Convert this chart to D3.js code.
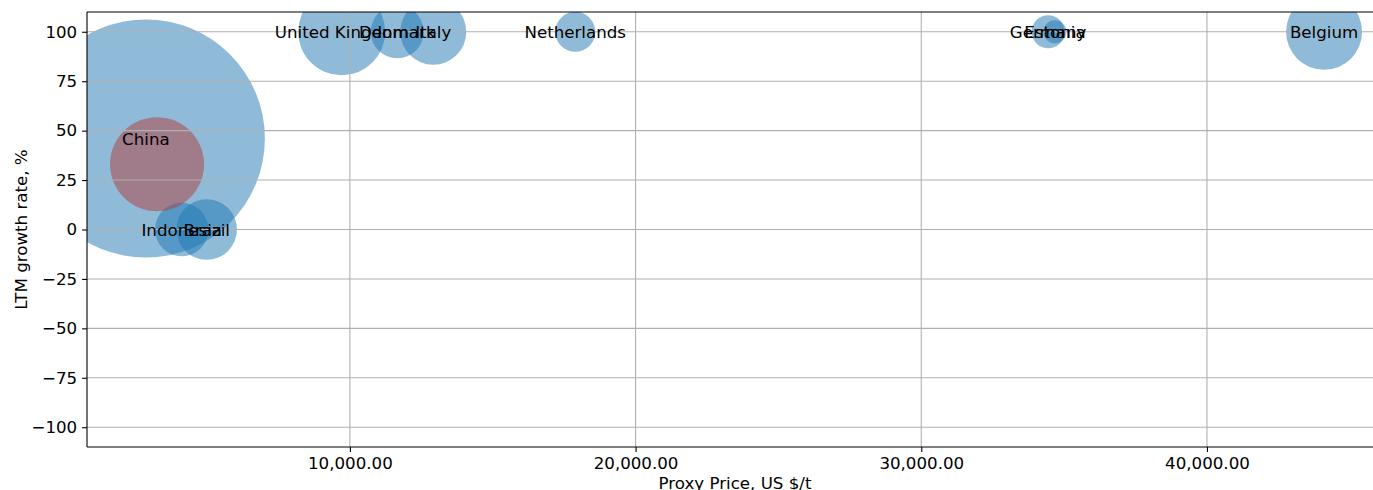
<!DOCTYPE html>
<html>
<head>
<meta charset="utf-8">
<script src="https://cdn.jsdelivr.net/npm/d3@7"></script>
<style>
  html, body { margin: 0; padding: 0; background: #fff; }
  svg { display: block; font-family: "DejaVu Sans", sans-serif; }
</style>
</head>
<body>
<svg id="chart" width="1373" height="490"></svg>
<script>
// ---- data ----
const countries = ["China", "Indonesia", "Brazil", "United Kingdom", "Denmark", "Italy", "Netherlands", "Germany", "Estonia", "Belgium"];
const proxyPrice = [2860, 4113, 4988, 9713, 11659, 12919, 17889, 34440, 34680, 44100];
const growthRate = [46, 0, 0, 100, 100, 100, 100, 100, 100, 100];
const volume = [14160, 713, 918, 1892, 702, 1089, 400, 272, 132, 1444];

// highlighted point (drawn in red on top)
const highlightPrice = [3250];
const highlightGrowth = [33];
const highlightVolume = [2209];

const xTicks = [10000, 20000, 30000, 40000];
const yTicks = [-100, -75, -50, -25, 0, 25, 50, 75, 100];

(function () {
// ---- layout ----
const mLeft = 87, mTop = 12, mRight = 1383, mBottom = 447;
const FS = 16.67;
const svg = d3.select("#chart");

const xExtent = d3.extent(proxyPrice);
const xPad = (xExtent[1] - xExtent[0]) * 0.05;
const x = d3.scaleLinear().domain([xExtent[0] - xPad, xExtent[1] + xPad]).range([mLeft, mRight]);
const y = d3.scaleLinear().domain([-110, 110]).range([mBottom, mTop]);
const r = d3.scaleSqrt().domain([0, d3.max(volume)]).range([0, 119]);

svg.append("defs").append("clipPath").attr("id", "clip")
  .append("rect").attr("x", mLeft).attr("y", mTop).attr("width", mRight - mLeft).attr("height", mBottom - mTop);

const plot = svg.append("g").attr("clip-path", "url(#clip)");

// bubbles
plot.selectAll("circle.b").data(countries).join("circle")
  .attr("class", "b")
  .attr("cx", (d, i) => x(proxyPrice[i]))
  .attr("cy", (d, i) => y(growthRate[i]))
  .attr("r", (d, i) => r(volume[i]))
  .attr("fill", "#1f77b4")
  .attr("fill-opacity", 0.5);

plot.selectAll("circle.h").data(highlightPrice).join("circle")
  .attr("class", "h")
  .attr("cx", (d, i) => x(highlightPrice[i]))
  .attr("cy", (d, i) => y(highlightGrowth[i]))
  .attr("r", (d, i) => r(highlightVolume[i]))
  .attr("fill", "#b13b39")
  .attr("fill-opacity", 0.5);

// grid (above scatter as in matplotlib)
const grid = svg.append("g");
grid.selectAll("line.gx").data(xTicks).join("line")
  .attr("x1", d => x(d)).attr("x2", d => x(d))
  .attr("y1", mTop).attr("y2", mBottom)
  .attr("stroke", "#b0b0b0").attr("stroke-width", 1.1);
grid.selectAll("line.gy").data(yTicks).join("line")
  .attr("x1", mLeft).attr("x2", mRight)
  .attr("y1", d => y(d)).attr("y2", d => y(d))
  .attr("stroke", "#b0b0b0").attr("stroke-width", 1.1);

// axes
const fmt = d3.format(",.2f");
const xAxis = svg.append("g").attr("transform", `translate(0,${mBottom})`)
  .call(d3.axisBottom(x).tickValues(xTicks).tickFormat(fmt).tickSize(4.9).tickPadding(4.9));
const yAxis = svg.append("g").attr("transform", `translate(${mLeft},0)`)
  .call(d3.axisLeft(y).tickValues(yTicks).tickFormat(d3.format("d")).tickSize(4.9).tickPadding(4.9));
[xAxis, yAxis].forEach(a => {
  a.select(".domain").remove();
  a.selectAll("line").attr("stroke", "#000").attr("stroke-width", 1.1);
  a.selectAll("text").attr("font-family", "DejaVu Sans").attr("font-size", FS).attr("fill", "#000");
});

// spines
const spine = (x1, y1, x2, y2) => svg.append("line").attr("x1", x1).attr("y1", y1).attr("x2", x2).attr("y2", y2)
  .attr("stroke", "#000").attr("stroke-width", 1.1);
spine(mLeft, mTop, mLeft, mBottom);
spine(mLeft, mBottom, mRight, mBottom);
spine(mLeft, mTop, mRight, mTop);
spine(mRight, mTop, mRight, mBottom);

// labels
svg.append("g").selectAll("text").data(countries).join("text")
  .attr("x", (d, i) => x(proxyPrice[i]))
  .attr("y", (d, i) => y(growthRate[i]))
  .attr("text-anchor", "middle")
  .attr("dy", "0.36em")
  .attr("font-size", FS)
  .attr("fill", "#000")
  .text(d => d);

// axis titles
svg.append("text")
  .attr("x", (mLeft + mRight) / 2).attr("y", 489)
  .attr("text-anchor", "middle").attr("font-size", FS)
  .text("Proxy Price, US $/t");
svg.append("text")
  .attr("transform", `translate(26.5,${(mTop + mBottom) / 2}) rotate(-90)`)
  .attr("text-anchor", "middle").attr("font-size", FS)
  .text("LTM growth rate, %");
})();
</script>
</body>
</html>
